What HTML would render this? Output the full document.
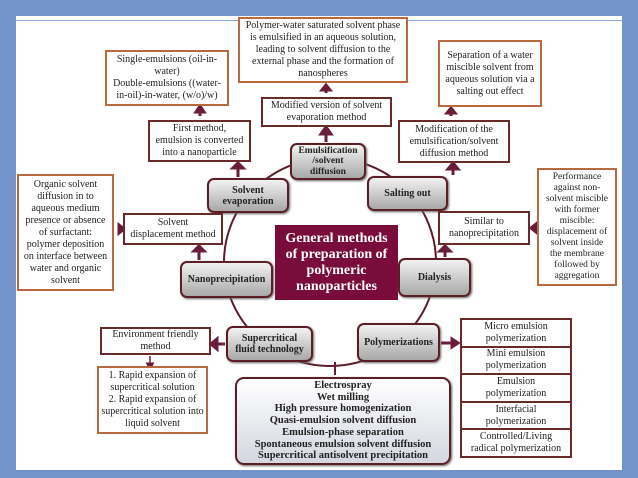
<!DOCTYPE html>
<html><head><meta charset="utf-8"><style>
*{margin:0;padding:0;box-sizing:border-box}
body{width:638px;height:478px;background:#7294c9;position:relative;overflow:hidden;font-family:"Liberation Serif",serif;color:#222}
#panel{position:absolute;left:16px;top:16px;width:606px;height:454px;background:#fff}
#line{position:absolute;left:16px;top:20px;width:606px;height:1px;background:#8fa9d6}
.b{position:absolute;background:#fff;border:2px solid #b8693f;font-size:10px;line-height:12px;text-align:center;display:flex;align-items:center;justify-content:center}
.d{border-color:#6a2a2a}
.n{position:absolute;border:2px solid #5a1e24;border-radius:7px;background:linear-gradient(#f2f2f2,#a8a8a8);font-weight:bold;font-size:10px;line-height:11px;text-align:center;display:flex;align-items:center;justify-content:center;box-shadow:1px 1px 2px #666}
svg{position:absolute;left:0;top:0}
</style></head><body>
<div id="panel"></div><div id="line"></div>
<svg width="638" height="478">
<ellipse cx="330" cy="262" rx="106" ry="104" fill="none" stroke="#5a1e2a" stroke-width="2"/>
<g stroke="#6a1d3a" stroke-width="3" fill="#6a1d3a">
<line x1="200" y1="116" x2="200" y2="108"/><polygon points="196,112 204,112 200,106"/>
<line x1="326" y1="142" x2="326" y2="132"/><polygon points="321,134 331,134 326,127"/>
<line x1="326" y1="93" x2="326" y2="88"/><polygon points="322,90 330,90 326,85"/>
<line x1="453" y1="175" x2="453" y2="168"/><polygon points="448,169 458,169 453,163"/>
<line x1="451" y1="116" x2="451" y2="112"/><polygon points="447,113 455,113 451,108"/>
<line x1="238" y1="177" x2="238" y2="168"/><polygon points="233,168 243,168 238,163"/>
<line x1="199" y1="260" x2="199" y2="251"/><polygon points="194,251 204,251 199,246"/>
<line x1="445" y1="257" x2="445" y2="251"/><polygon points="440,251 450,251 445,246"/>
<line x1="225" y1="344" x2="217" y2="344"/><polygon points="217,339 217,349 211,344"/>
<line x1="441" y1="343" x2="452" y2="343"/><polygon points="452,339 452,347 458,343"/>
<line x1="335" y1="362" x2="335" y2="375" stroke-width="2"/>
<polygon points="148,364 152,364 150,368" /><line x1="150" y1="356" x2="150" y2="365" stroke-width="1.5"/>
<polygon points="124,229 119,225 119,233"/><polygon points="531,228 536,224 536,232"/>
</g>
</svg>
<div class="b" style="left:105px;top:50px;width:124px;height:56px">Single-emulsions (oil-in-<br>water)<br>Double-emulsions ((water-<br>in-oil)-in-water, (w/o)/w)</div>
<div class="b" style="left:238px;top:17px;width:170px;height:66px;padding:0 4px">Polymer-water saturated solvent phase is emulsified in an aqueous solution, leading to solvent diffusion to the external phase and the formation of nanospheres</div>
<div class="b d" style="left:261px;top:97px;width:131px;height:30px">Modified version of solvent evaporation method</div>
<div class="b" style="left:438px;top:40px;width:104px;height:67px;padding:0 4px">Separation of a water miscible solvent from aqueous solution via a salting out effect</div>
<div class="b d" style="left:148px;top:120px;width:103px;height:42px">First method,<br>emulsion is converted into a nanoparticle</div>
<div class="b d" style="left:398px;top:120px;width:112px;height:43px">Modification of the emulsification/solvent diffusion method</div>
<div class="n" style="left:290px;top:143px;width:76px;height:37px;font-size:9.5px;line-height:10.5px">Emulsification<br>/solvent<br>diffusion</div>
<div class="n" style="left:207px;top:178px;width:82px;height:35px">Solvent<br>evaporation</div>
<div class="n" style="left:367px;top:176px;width:81px;height:35px">Salting out</div>
<div class="b" style="left:17px;top:174px;width:97px;height:117px;padding:0 3px">Organic solvent diffusion in to aqueous medium presence or absence of surfactant: polymer deposition on interface between water and organic solvent</div>
<div class="b d" style="left:123px;top:213px;width:100px;height:32px">Solvent<br>displacement method</div>
<div class="b d" style="left:438px;top:211px;width:92px;height:34px">Similar to<br>nanoprecipitation</div>
<div class="b" style="left:537px;top:168px;width:80px;height:118px;font-size:9.5px;line-height:11px">Performance<br>against non-<br>solvent miscible<br>with former<br>miscible:<br>displacement of<br>solvent inside<br>the membrane<br>followed by<br>aggregation</div>
<div style="position:absolute;left:275px;top:225px;width:123px;height:75px;background:#7a0c3c;color:#fff;font-weight:bold;font-size:14px;line-height:16px;text-align:center;display:flex;align-items:center;justify-content:center">General methods<br>of preparation of<br>polymeric<br>nanoparticles</div>
<div class="n" style="left:180px;top:261px;width:93px;height:37px">Nanoprecipitation</div>
<div class="n" style="left:398px;top:258px;width:73px;height:39px">Dialysis</div>
<div class="b d" style="left:100px;top:327px;width:111px;height:28px">Environment friendly<br>method</div>
<div class="n" style="left:226px;top:326px;width:87px;height:36px">Supercritical<br>fluid technology</div>
<div class="b" style="left:97px;top:366px;width:111px;height:68px">1. Rapid expansion of supercritical solution<br>2. Rapid expansion of supercritical solution into liquid solvent</div>
<div class="n" style="left:357px;top:323px;width:83px;height:39px">Polymerizations</div>
<div class="n" style="left:235px;top:377px;width:216px;height:88px;background:linear-gradient(#fff,#d4d7e0);font-size:10.5px;line-height:11.7px;border-radius:9px">Electrospray<br>Wet milling<br>High pressure homogenization<br>Quasi-emulsion solvent diffusion<br>Emulsion-phase separation<br>Spontaneous emulsion solvent diffusion<br>Supercritical antisolvent precipitation</div>
<div style="position:absolute;left:460px;top:318px;width:112px;height:140px;border:2px solid #6a2a2a;background:#6a2a2a;display:flex;flex-direction:column;gap:2px">
<div class="b" style="position:static;border:0;flex:1">Micro emulsion<br>polymerization</div>
<div class="b" style="position:static;border:0;flex:1">Mini emulsion<br>polymerization</div>
<div class="b" style="position:static;border:0;flex:1">Emulsion<br>polymerization</div>
<div class="b" style="position:static;border:0;flex:1">Interfacial<br>polymerization</div>
<div class="b" style="position:static;border:0;flex:1">Controlled/Living<br>radical polymerization</div>
</div>
</body></html>
